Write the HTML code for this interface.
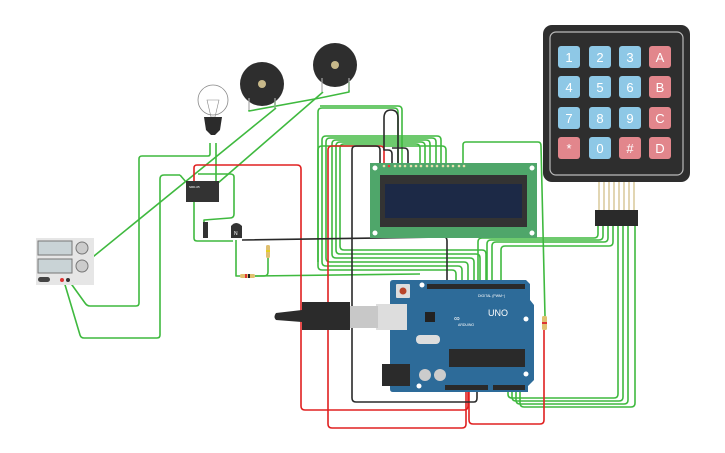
<!DOCTYPE html>
<html><head><meta charset="utf-8"><style>
html,body{margin:0;padding:0;background:#fff;width:725px;height:453px;overflow:hidden}
svg{display:block}
text{font-family:"Liberation Sans",sans-serif}
</style></head><body>
<svg width="725" height="453" viewBox="0 0 725 453" xmlns="http://www.w3.org/2000/svg">
<g fill="none" stroke-linejoin="round" stroke-width="1.6">
<g stroke="#3fb93f">
<path d="M210 143 L210 154 Q210 156 208 156 L142 156 Q139 156 139 159 L139 303 Q139 306 136 306 L90 306 Q87 306 85 303 L67 278"/>
<path d="M216 143 L216 182"/>
<path d="M180 175 L164 175 Q160 175 160 179 L160 335 Q160 338 157 338 L84 338 Q81 338 80 335 L63 278"/>
<path d="M180 175 L186 182"/>
<path d="M194 202 L194 238 Q194 241 197 241 L233 241"/>
<path d="M204 222 L204 220 L230 218 Q234 218 234 214 L234 177 Q234 174 230 174 L198 174"/>
<path d="M67 278 L276 108"/>
<path d="M218 183 L323 92"/>
<path d="M249 110 L249 111 L320 98 L349 92 L349 82"/>
<path d="M275 108 L275 96"/>
<path d="M236 240 L236 276 L244 276"/>
<path d="M255 276 L264 276 Q268 276 268 272 L268 258"/>
<path d="M255 276 L420 274"/>
<path d="M446 166 L446 150 Q446 146 442 146 L322 146 Q318 146 318 150 L318 266 Q318 270 322 270 L452 270 Q456 270 456 274 L456 284"/>
<path d="M441 166 L441 140 Q441 136 437 136 L326 136 Q322 136 322 140 L322 262 Q322 266 326 266 L458 266 Q462 266 462 270 L462 284"/>
<path d="M436 166 L436 142 Q436 138 432 138 L330 138 Q326 138 326 142 L326 258 Q326 262 330 262 L464 262 Q468 262 468 266 L468 284"/>
<path d="M430 166 L430 144 Q430 140 426 140 L336 140 Q332 140 332 144 L332 254 Q332 258 336 258 L470 258 Q474 258 474 262 L474 284"/>
<path d="M425 166 L425 146 Q425 142 421 142 L340 142 Q336 142 336 146 L336 250 Q336 254 340 254 L476 254 Q480 254 480 258 L480 284"/>
<path d="M420 166 L420 148 Q420 144 416 144 L344 144 Q340 144 340 148 L340 246 Q340 250 344 250 L482 250 Q486 250 486 254 L486 284"/>
<path d="M398 166 L398 112 Q398 108 394 108 L322 108 Q318 108 318 112 L318 262"/>
<path d="M402 166 L402 110 Q402 106 398 106 L320 106"/>
<path d="M463 166 L463 145 Q463 142 466 142 L538 142 Q541 142 541 146 L545 316"/>
<path d="M598 226 L598 234 Q598 238 594 238 L482 238 Q478 238 478 242 L478 284"/>
<path d="M603 226 L603 236 Q603 240 599 240 L491 240 Q487 240 487 244 L487 284"/>
<path d="M608 226 L608 238 Q608 242 604 242 L496 242 Q492 242 492 246 L492 284"/>
<path d="M613 226 L613 242 Q613 246 609 246 L505 246 Q501 246 501 250 L501 284"/>
<path d="M618 226 L618 394 Q618 398 614 398 L512 398 Q508 398 508 394 L508 389"/>
<path d="M623 226 L623 397 Q623 401 619 401 L516 401 Q512 401 512 397 L512 389"/>
<path d="M628 226 L628 400 Q628 404 624 404 L520 404 Q516 404 516 400 L516 389"/>
<path d="M635 226 L635 403 Q635 407 631 407 L524 407 Q520 407 520 403 L520 389"/>
</g>
<g stroke="#e02020">
<path d="M194 182 L194 168 Q194 165 197 165 L297 165 Q301 165 301 169 L301 406 Q301 410 305 410 L464 410 Q468 410 468 406 L468 389"/>
<path d="M384 166 L384 150 Q384 146 380 146 L332 146 Q328 146 328 150 L328 424 Q328 428 332 428 L462 428 Q466 428 466 424 L466 389"/>
<path d="M469 389 L469 420 Q469 424 473 424 L540 424 Q544 424 544 420 L544 330"/>
</g>
<g stroke="#2a2a2a">
<path d="M380 166 L380 150 Q380 146 376 146 L356 146 Q352 146 352 150 L352 398 Q352 402 356 402 L474 402 Q477 402 477 398 L477 389"/>
<path d="M392 166 L392 154 Q392 150 388 150 L384 150 L384 118 Q384 110 391 110 Q398 110 398 118 L398 166"/>
<path d="M408 166 L408 152 Q408 148 404 148 L392 148"/>
<path d="M242 240 L444 237 Q447 237 447 241 L447 284"/>
</g>
</g>

<rect x="543" y="25" width="147" height="157" rx="9" fill="#2e2e2e"/>
<rect x="550" y="32" width="133" height="143" rx="6" fill="none" stroke="#bbb" stroke-width="1.2"/>
<g font-size="13" text-anchor="middle" fill="#fff">
<rect x="558" y="46" width="22" height="22" rx="3" fill="#8ec8e6"/><text x="569" y="62">1</text>
<rect x="589" y="46" width="22" height="22" rx="3" fill="#8ec8e6"/><text x="600" y="62">2</text>
<rect x="619" y="46" width="22" height="22" rx="3" fill="#8ec8e6"/><text x="630" y="62">3</text>
<rect x="649" y="46" width="22" height="22" rx="3" fill="#e2868c"/><text x="660" y="62">A</text>
<rect x="558" y="76" width="22" height="22" rx="3" fill="#8ec8e6"/><text x="569" y="92">4</text>
<rect x="589" y="76" width="22" height="22" rx="3" fill="#8ec8e6"/><text x="600" y="92">5</text>
<rect x="619" y="76" width="22" height="22" rx="3" fill="#8ec8e6"/><text x="630" y="92">6</text>
<rect x="649" y="76" width="22" height="22" rx="3" fill="#e2868c"/><text x="660" y="92">B</text>
<rect x="558" y="107" width="22" height="22" rx="3" fill="#8ec8e6"/><text x="569" y="123">7</text>
<rect x="589" y="107" width="22" height="22" rx="3" fill="#8ec8e6"/><text x="600" y="123">8</text>
<rect x="619" y="107" width="22" height="22" rx="3" fill="#8ec8e6"/><text x="630" y="123">9</text>
<rect x="649" y="107" width="22" height="22" rx="3" fill="#e2868c"/><text x="660" y="123">C</text>
<rect x="558" y="137" width="22" height="22" rx="3" fill="#e2868c"/><text x="569" y="153">*</text>
<rect x="589" y="137" width="22" height="22" rx="3" fill="#8ec8e6"/><text x="600" y="153">0</text>
<rect x="619" y="137" width="22" height="22" rx="3" fill="#e2868c"/><text x="630" y="153">#</text>
<rect x="649" y="137" width="22" height="22" rx="3" fill="#e2868c"/><text x="660" y="153">D</text>
</g>
<g stroke="#d9c99a" stroke-width="1.5">
<path d="M599 182V210M604 182V210M609 182V210M614 182V210M619 182V210M624 182V210M629 182V210M634 182V210"/>
</g>
<rect x="595" y="210" width="43" height="16" fill="#2a2a2a"/>

<rect x="370" y="163" width="167" height="75" fill="#4fa66a"/>
<circle cx="375" cy="168" r="2.5" fill="#fff"/><circle cx="532" cy="168" r="2.5" fill="#fff"/>
<circle cx="375" cy="233" r="2.5" fill="#fff"/><circle cx="532" cy="233" r="2.5" fill="#fff"/>
<rect x="380" y="175" width="147" height="52" fill="#333"/>
<rect x="385" y="184" width="137" height="34" fill="#1c2946"/>
<g fill="#e8e0b0">
<circle cx="384" cy="166" r="1.3"/><circle cx="389" cy="166" r="1.3" fill="#e33"/><circle cx="395" cy="166" r="1.3"/><circle cx="400" cy="166" r="1.3"/><circle cx="405" cy="166" r="1.3"/><circle cx="411" cy="166" r="1.3"/><circle cx="416" cy="166" r="1.3"/><circle cx="421" cy="166" r="1.3"/><circle cx="427" cy="166" r="1.3"/><circle cx="432" cy="166" r="1.3"/><circle cx="437" cy="166" r="1.3"/><circle cx="443" cy="166" r="1.3"/><circle cx="448" cy="166" r="1.3"/><circle cx="453" cy="166" r="1.3"/><circle cx="459" cy="166" r="1.3"/><circle cx="464" cy="166" r="1.3"/>
</g>

<path d="M390 283 Q390 280 393 280 L526 280 L530 284 L530 300 L534 305 L534 380 L528 386 L528 392 L393 392 Q390 392 390 389 Z" fill="#2d6b99"/>
<rect x="427" y="284" width="98" height="5" fill="#2a2a2a"/>
<rect x="445" y="385" width="43" height="5" fill="#2a2a2a"/>
<rect x="493" y="385" width="32" height="5" fill="#2a2a2a"/>
<rect x="396" y="284" width="14" height="14" rx="1" fill="#ddd"/><circle cx="403" cy="291" r="3.5" fill="#b8442a"/>
<rect x="376" y="304" width="31" height="26" fill="#ddd"/>
<rect x="382" y="364" width="28" height="22" fill="#2b2b2b"/>
<circle cx="425" cy="375" r="6" fill="#ccc"/><circle cx="440" cy="375" r="6" fill="#ccc"/>
<rect x="416" y="335" width="24" height="9" rx="4" fill="#ddd"/>
<rect x="449" y="349" width="76" height="18" fill="#2a2a2a"/>
<rect x="425" y="312" width="10" height="10" fill="#222"/>
<text x="454" y="321" font-size="8" fill="#fff">∞</text>
<text x="488" y="316" font-size="9" fill="#fff">UNO</text>
<text x="458" y="326" font-size="3.5" fill="#fff">ARDUINO</text>
<circle cx="422" cy="285" r="2.5" fill="#fff"/><circle cx="526" cy="319" r="2.5" fill="#fff"/><circle cx="526" cy="374" r="2.5" fill="#fff"/><circle cx="419" cy="386" r="2.5" fill="#fff"/>
<text x="478" y="297" font-size="3.5" fill="#fff">DIGITAL (PWM~)</text>

<rect x="330" y="306" width="48" height="22" fill="#c8c8c8"/>
<rect x="302" y="302" width="48" height="28" fill="#2b2b2b"/>
<path d="M276 313 L302 310 L302 322 L276 320 Q273 317 276 313Z" fill="#2b2b2b"/>

<rect x="36" y="238" width="58" height="47" fill="#e6e6e6"/>
<rect x="38" y="241" width="34" height="14" fill="#c9d3d6" stroke="#777"/>
<rect x="38" y="259" width="34" height="14" fill="#c9d3d6" stroke="#777"/>
<circle cx="82" cy="248" r="6" fill="#ccc" stroke="#777"/><circle cx="82" cy="266" r="6" fill="#ccc" stroke="#777"/>
<rect x="38" y="277" width="12" height="5" rx="2.5" fill="#444"/>
<circle cx="62" cy="280" r="2" fill="#d33"/><circle cx="68" cy="280" r="2" fill="#333"/>

<circle cx="213" cy="100" r="15" fill="#fff" stroke="#888" stroke-width="0.8"/>
<path d="M207 100 L219 100 L215 117 L211 117Z" fill="none" stroke="#888" stroke-width="0.6"/>
<path d="M204 117 L222 117 L220 130 L215 135 L211 135 L206 130Z" fill="#2b2b2b"/>

<circle cx="262" cy="84" r="22" fill="#2e2e2e"/><circle cx="262" cy="84" r="4" fill="#c8b98a"/>
<circle cx="335" cy="65" r="22" fill="#2e2e2e"/><circle cx="335" cy="65" r="4" fill="#c8b98a"/>
<path d="M249 98V110M275 98V108M322 78V92M349 78V90" stroke="#aaa" stroke-width="1.2"/>

<rect x="186" y="181" width="33" height="21" fill="#333"/>
<text x="189" y="188" font-size="3" fill="#fff">SRD-05</text>
<rect x="203" y="222" width="5" height="16" fill="#333"/>
<path d="M231 226 Q236 220 242 226 L242 238 L231 238Z" fill="#333"/>
<text x="234" y="235" font-size="5" fill="#fff">N</text>
<rect x="266" y="245" width="4" height="13" rx="1.5" fill="#e0c070"/><rect x="266" y="250" width="4" height="2" fill="#e6d020"/>
<rect x="240" y="274" width="15" height="4" rx="1.5" fill="#e0c070"/><rect x="245" y="274" width="2" height="4" fill="#d33"/><rect x="248" y="274" width="2" height="4" fill="#222"/>
<rect x="542" y="316" width="5" height="14" rx="1.5" fill="#e0c070"/><rect x="542" y="322" width="5" height="2" fill="#d33"/>
</svg>
</body></html>
